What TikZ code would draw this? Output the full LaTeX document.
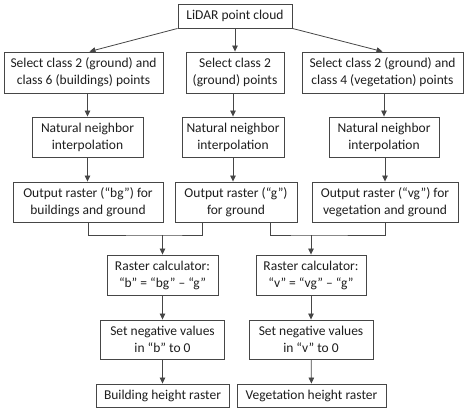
\documentclass[tikz,border=0pt]{standalone}
\usepackage{fontspec}
\setmainfont{Carlito}
\usetikzlibrary{arrows.meta, positioning, calc}
\definecolor{edge}{RGB}{70, 70, 70}
\definecolor{ink}{RGB}{30, 30, 30}
\tikzset{
    box/.style={rectangle, draw=edge, line width=0.9pt, fill=white, align=center, text=ink, inner sep=2pt, font=\fontsize{13.5}{17}\selectfont},
    arr/.style={-{Triangle[length=6pt, width=5.5pt]}, line width=0.8pt, edge},
    link/.style={line width=0.8pt, edge}
}
\begin{document}
\begin{tikzpicture}[x=1pt, y=-1pt]
                \useasboundingbox (0,0) rectangle (474,413);
                \node[box, minimum width=114pt, minimum height=24pt] (cloud) at (235,16) {LiDAR point cloud};
                \node[box, minimum width=159pt, minimum height=41pt] (selB) at (83.5,72.5) {Select class 2 (ground) and\\class 6 (buildings) points};
                \node[box, minimum width=98pt, minimum height=41pt] (selG) at (235,72.5) {Select class 2\\(ground) points};
                \node[box, minimum width=161pt, minimum height=41pt] (selV) at (382.5,72.5) {Select class 2 (ground) and\\class 4 (vegetation) points};
                \node[box, minimum width=111pt, minimum height=40pt] (nnB) at (87.5,137) {Natural neighbor\\interpolation};
                \node[box, minimum width=102pt, minimum height=40pt] (nnG) at (233,137) {Natural neighbor\\interpolation};
                \node[box, minimum width=110pt, minimum height=40pt] (nnV) at (384,137) {Natural neighbor\\interpolation};
                \node[box, minimum width=150pt, minimum height=40pt] (outB) at (88,202) {Output raster (“bg”) for\\buildings and ground};
                \node[box, minimum width=122pt, minimum height=40pt] (outG) at (236,202) {Output raster (“g”)\\for ground};
                \node[box, minimum width=146pt, minimum height=40pt] (outV) at (385,202) {Output raster (“vg”) for\\vegetation and ground};
                \node[box, minimum width=111pt, minimum height=40pt] (calcB) at (162.5,275) {Raster calculator:\\“b” = “bg” – “g”};
                \node[box, minimum width=110pt, minimum height=40pt] (calcV) at (311,275) {Raster calculator:\\“v” = “vg” – “g”};
                \node[box, minimum width=124pt, minimum height=39pt] (negB) at (162.5,339.5) {Set negative values\\in “b” to 0};
                \node[box, minimum width=124pt, minimum height=39pt] (negV) at (311,339.5) {Set negative values\\in “v” to 0};
                \node[box, minimum width=133pt, minimum height=23pt] (htB) at (162.5,395.5) {Building height raster};
                \node[box, minimum width=149pt, minimum height=23pt] (htV) at (311.5,395.5) {Vegetation height raster};
                \coordinate (jB) at (162.5,235);
                \coordinate (jV) at (311,235);
                % top fan-out
                \draw[arr] (cloud.south west) -- ([xshift=6pt]selB.north);
                \draw[arr] (cloud.south) -- (selG.north);
                \draw[arr] (cloud.south east) -- (selV.north);
                % three columns
                \draw[arr] (selB.south -| nnB.north) -- (nnB.north);
                \draw[arr] (selG.south -| nnG.north) -- (nnG.north);
                \draw[arr] (selV.south -| nnV.north) -- (nnV.north);
                \draw[arr] (nnB.south) -- (nnB.south |- outB.north);
                \draw[arr] (nnG.south) -- (nnG.south |- outG.north);
                \draw[arr] (nnV.south -| outV.north) -- (outV.north);
                % merges
                \draw[link] (outB.south) |- (jB) -| ([xshift=-34pt]outG.south);
                \draw[link] ([xshift=34pt]outG.south) |- (jV) -| (outV.south);
                \draw[arr] (jB) -- (calcB.north);
                \draw[arr] (jV) -- (calcV.north);
                \draw[arr] (calcB) -- (negB); \draw[arr] (negB) -- (htB);
                \draw[arr] (calcV) -- (negV); \draw[arr] (negV) -- (htV);
\end{tikzpicture}
\end{document}
